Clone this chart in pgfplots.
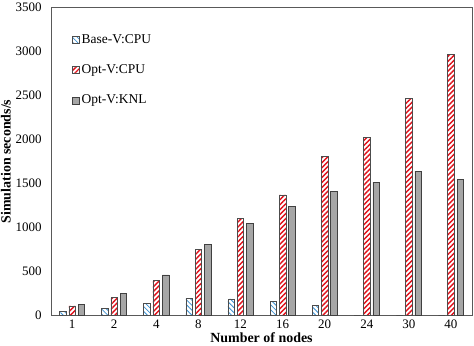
\documentclass[border=0pt]{standalone}
\usepackage{pgfplots}
\pgfplotsset{compat=1.18}
\usepackage{pgfplotstable}
\usepackage{fontspec}
\setmainfont{Liberation Serif}
\usetikzlibrary{patterns.meta}
\definecolor{hatchblue}{HTML}{3A8FD0}
\definecolor{hatchred}{HTML}{E0101A}
\definecolor{knlgray}{HTML}{A6A6A6}
\pgfplotstableread{
x base optcpu knl
0 48 108 130
1 82 205 248
2 140 400 462
3 195 750 810
4 190 1102 1045
5 158 1372 1236
6 112 1808 1408
7 0 2028 1515
8 0 2464 1640
9 0 2970 1545
}\data
\begin{document}
\begin{tikzpicture}
\begin{axis}[
  scale only axis, width=421bp, height=308bp,
  ybar=2.8bp, bar width=6.5bp,
  xmin=-0.5, xmax=9.5, ymin=0, ymax=3500,
  xtick={0,...,9}, xticklabels={1,2,4,8,12,16,20,24,30,40},
  ytick={0,500,...,3500},
  major tick length=0pt,
  axis line style={draw=black!65, line width=0.8pt},
  tick label style={font=\fontsize{13}{15}\selectfont},
  /pgf/number format/assume math mode=true,
  /pgf/number format/1000 sep={},
  yticklabel style={xshift=-6bp},
  xticklabel style={yshift=-1bp},
  xlabel={\bfseries Number of nodes},
  ylabel={\bfseries Simulation seconds/s},
  label style={font=\fontsize{14}{16}\selectfont},
  xlabel style={yshift=2.5bp},
  ylabel style={yshift=-2bp},
  legend style={at={(0.05,0.92)}, anchor=north west, draw=none, fill=none,
    font=\fontsize{13.5}{15}\selectfont, row sep=16bp, inner sep=0pt},
  legend cell align=left,
  legend image code/.code={\draw[#1] (0bp,-3.5bp) rectangle (7bp,3.5bp);},
]
\addplot[draw=black!70, line width=0.5pt, pattern={Lines[angle=-45,distance=3.5bp,line width=0.8bp]}, pattern color=hatchblue] table[x=x,y=base] {\data};
\addlegendentry{Base-V:CPU}
\addplot[draw=black!70, line width=0.5pt, pattern={Lines[angle=45,distance=3.5bp,line width=1.4bp]}, pattern color=hatchred] table[x=x,y=optcpu] {\data};
\addlegendentry{Opt-V:CPU}
\addplot[draw=black!75, line width=0.5pt, fill=knlgray] table[x=x,y=knl] {\data};
\addlegendentry{Opt-V:KNL}
\end{axis}
\pgfresetboundingbox
\path ([shift={(-51bp,-30.5bp)}]current axis.south west) rectangle ([shift={(2bp,7.5bp)}]current axis.north east);
\end{tikzpicture}
\end{document}
